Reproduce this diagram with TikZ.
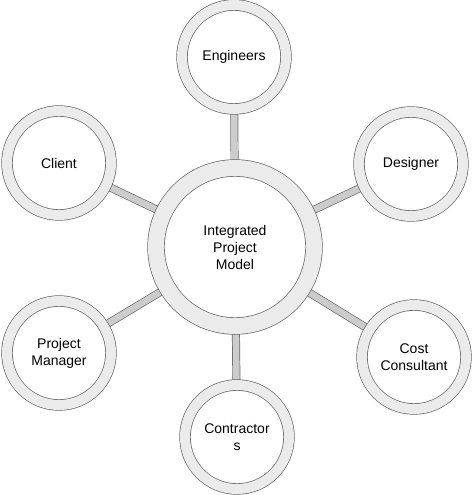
\documentclass[tikz,border=0pt]{standalone}
\usepackage{fontspec}
\setmainfont{Liberation Sans}
\usetikzlibrary{backgrounds}
\definecolor{ringgray}{HTML}{EBEBEB}
\definecolor{bargray}{HTML}{CCCCCC}
\definecolor{edgegray}{HTML}{666666}
\begin{document}
\begin{tikzpicture}[
            x=1pt, y=-1pt,
            ring/.style={circle, draw=edgegray, line width=0.7pt, double=ringgray,
                double distance=10pt, fill=white, align=center, text=black,
                font=\fontsize{14}{17}\selectfont, inner sep=0pt},
            party/.style={ring, minimum size=104pt},
            hub/.style={ring, minimum size=158pt, double distance=16pt},
            bar/.style={draw=edgegray, line width=0.7pt, double=bargray, double distance=6.6pt}
        ]
        \useasboundingbox (0,0) rectangle (474,495);
        \clip (0,0) rectangle (474,495);

        \node[hub] (M) at (235,247) {Integrated\\Project\\Model};
        \node[party] (E) at (234,57) {Engineers};
        \node[party] (C) at (59,163) {Client};
        \node[party] (D) at (411,164) {Designer};
        \node[party] (P) at (59,353) {Project\\Manager};
        \node[party] (K) at (414,357) {Cost\\Consultant};
        \node[party] (S) at (237,437) {Contractor\\s};

        \begin{scope}[on background layer]
            \foreach \n in {E,C,D,P,K,S}
                \draw[bar] (M) -- (\n);
        \end{scope}
    \end{tikzpicture}
\end{document}
